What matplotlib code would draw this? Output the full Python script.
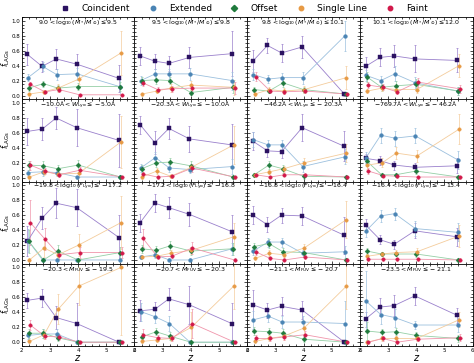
import matplotlib
matplotlib.use("Agg")
import matplotlib.pyplot as plt
from matplotlib.lines import Line2D
from matplotlib.ticker import MultipleLocator

# redshift bin centres
z_bins = [2.2, 2.72, 3.22, 3.95, 5.45]

series = ["Coincident", "Extended", "Offset", "Single Line", "Faint"]

# panel titles, one row per property
mass_titles = [r"$9.0 < \log_{10}(M_*/M_\odot) \leq 9.5$",
               r"$9.5 < \log_{10}(M_*/M_\odot) \leq 9.8$",
               r"$9.8 < \log_{10}(M_*/M_\odot) \leq 10.1$",
               r"$10.1 < \log_{10}(M_*/M_\odot) \leq 12.0$"]
ew_titles = [r"$-10.0{\rm Å} < W_{\rm Ly\alpha} \leq -5.0{\rm Å}$",
             r"$-20.3{\rm Å} < W_{\rm Ly\alpha} \leq -10.0{\rm Å}$",
             r"$-46.2{\rm Å} < W_{\rm Ly\alpha} \leq -20.3{\rm Å}$",
             r"$-769.7{\rm Å} < W_{\rm Ly\alpha} \leq -46.2{\rm Å}$"]
flux_titles = [r"$-19.8 < \log_{10}(F_{\rm Ly\alpha}) \leq -17.2$",
               r"$-17.2 < \log_{10}(F_{\rm Ly\alpha}) \leq -16.8$",
               r"$-16.8 < \log_{10}(F_{\rm Ly\alpha}) \leq -16.4$",
               r"$-16.4 < \log_{10}(F_{\rm Ly\alpha}) \leq -13.4$"]
muv_titles = [r"$-20.3 < M_{\rm FUV} \leq -19.5$",
              r"$-20.7 < M_{\rm FUV} \leq -20.3$",
              r"$-21.1 < M_{\rm FUV} \leq -20.7$",
              r"$-23.5 < M_{\rm FUV} \leq -21.1$"]

# fractions, [panel][z bin] for each class
mass_vals = {
    "Coincident":  [[0.55, 0.39, 0.49, 0.42, 0.23], [0.53, 0.46, 0.43, 0.51, 0.56],
                    [0.46, 0.67, 0.57, 0.65, 0.02], [0.39, 0.51, 0.53, 0.49, 0.47]],
    "Extended":    [[0.24, 0.39, 0.28, 0.29, 0.12], [0.20, 0.29, 0.29, 0.29, 0.20],
                    [0.28, 0.22, 0.24, 0.24, 0.80], [0.27, 0.20, 0.29, 0.17, 0.06]],
    "Offset":      [[0.10, 0.16, 0.10, 0.12, 0.12], [0.20, 0.21, 0.20, 0.04, 0.11],
                    [0.08, 0.06, 0.17, 0.08, 0.02], [0.25, 0.11, 0.13, 0.15, 0.06]],
    "Single Line": [[0.02, 0.05, 0.10, 0.22, 0.57], [0.02, 0.06, 0.10, 0.14, 0.11],
                    [0.02, 0.08, 0.06, 0.08, 0.24], [0.06, 0.10, 0.08, 0.08, 0.40]],
    "Faint":       [[0.15, 0.05, 0.08, 0.01, 0.01], [0.17, 0.08, 0.09, 0.10, 0.10],
                    [0.25, 0.06, 0.05, 0.06, 0.02], [0.14, 0.11, 0.05, 0.18, 0.09]],
}
mass_errs = {
    "Coincident":  [[0.14, 0.07, 0.13, 0.14, 0.18], [0.12, 0.10, 0.10, 0.14, 0.30],
                    [0.15, 0.10, 0.12, 0.15, 0.02], [0.12, 0.12, 0.15, 0.18, 0.16]],
    "Extended":    [[0.05, 0.06, 0.07, 0.08, 0.10], [0.06, 0.07, 0.07, 0.08, 0.12],
                    [0.07, 0.05, 0.06, 0.08, 0.20], [0.07, 0.06, 0.10, 0.08, 0.05]],
    "Offset":      [[0.04, 0.04, 0.04, 0.05, 0.06], [0.05, 0.06, 0.05, 0.03, 0.08],
                    [0.03, 0.03, 0.06, 0.04, 0.02], [0.07, 0.05, 0.06, 0.07, 0.05]],
    "Single Line": [[0.02, 0.03, 0.05, 0.07, 0.30], [0.02, 0.03, 0.05, 0.06, 0.10],
                    [0.02, 0.03, 0.04, 0.05, 0.15], [0.03, 0.04, 0.04, 0.05, 0.15]],
    "Faint":       [[0.03, 0.02, 0.03, 0.01, 0.01], [0.04, 0.03, 0.04, 0.04, 0.08],
                    [0.06, 0.03, 0.03, 0.03, 0.02], [0.04, 0.04, 0.03, 0.06, 0.05]],
}

ew_vals = {
    "Coincident":  [[0.62, 0.65, 0.80, 0.67, 0.50], [0.71, 0.47, 0.66, 0.52, 0.44],
                    [0.49, 0.36, 0.35, 0.67, 0.42], [0.26, 0.23, 0.17, 0.14, 0.16]],
    "Extended":    [[0.07, 0.08, 0.07, 0.01, 0.01], [0.13, 0.27, 0.13, 0.11, 0.15],
                    [0.51, 0.44, 0.44, 0.15, 0.28], [0.27, 0.57, 0.53, 0.56, 0.24]],
    "Offset":      [[0.17, 0.16, 0.12, 0.17, 0.01], [0.12, 0.20, 0.21, 0.16, 0.01],
                    [0.04, 0.17, 0.12, 0.02, 0.01], [0.22, 0.04, 0.04, 0.09, 0.01]],
    "Single Line": [[0.01, 0.08, 0.05, 0.06, 0.48], [0.01, 0.09, 0.02, 0.14, 0.44],
                    [0.04, 0.08, 0.12, 0.20, 0.33], [0.17, 0.20, 0.33, 0.29, 0.65]],
    "Faint":       [[0.17, 0.09, 0.04, 0.10, 0.01], [0.05, 0.01, 0.02, 0.13, 0.01],
                    [0.04, 0.01, 0.04, 0.04, 0.01], [0.09, 0.03, 0.02, 0.01, 0.01]],
}
ew_errs = {
    "Coincident":  [[0.18, 0.15, 0.15, 0.25, 0.35], [0.12, 0.15, 0.14, 0.17, 0.28],
                    [0.12, 0.08, 0.08, 0.18, 0.20], [0.06, 0.06, 0.06, 0.06, 0.10]],
    "Extended":    [[0.04, 0.05, 0.04, 0.02, 0.02], [0.05, 0.07, 0.05, 0.05, 0.10],
                    [0.10, 0.06, 0.06, 0.07, 0.10], [0.08, 0.10, 0.10, 0.10, 0.12]],
    "Offset":      [[0.06, 0.06, 0.05, 0.07, 0.02], [0.05, 0.06, 0.06, 0.06, 0.02],
                    [0.03, 0.05, 0.05, 0.03, 0.02], [0.06, 0.03, 0.03, 0.04, 0.02]],
    "Single Line": [[0.02, 0.04, 0.03, 0.05, 0.35], [0.02, 0.04, 0.02, 0.05, 0.25],
                    [0.02, 0.03, 0.04, 0.06, 0.12], [0.05, 0.06, 0.08, 0.08, 0.20]],
    "Faint":       [[0.06, 0.04, 0.03, 0.05, 0.02], [0.03, 0.02, 0.02, 0.05, 0.02],
                    [0.02, 0.01, 0.02, 0.03, 0.02], [0.04, 0.02, 0.02, 0.02, 0.02]],
}

flux_vals = {
    "Coincident":  [[0.25, 0.56, 0.76, 0.70, 0.30], [0.50, 0.76, 0.70, 0.61, 0.38],
                    [0.60, 0.47, 0.60, 0.59, 0.33], [0.47, 0.27, 0.21, 0.39, 0.31]],
    "Extended":    [[0.26, 0.00, 0.00, 0.00, 0.00], [0.04, 0.07, 0.00, 0.00, 0.15],
                    [0.12, 0.24, 0.24, 0.09, 0.11], [0.39, 0.59, 0.62, 0.42, 0.37]],
    "Offset":      [[0.25, 0.00, 0.12, 0.00, 0.10], [0.15, 0.13, 0.19, 0.12, 0.15],
                    [0.18, 0.22, 0.11, 0.10, 0.00], [0.12, 0.08, 0.08, 0.08, 0.00]],
    "Single Line": [[0.00, 0.16, 0.07, 0.20, 0.50], [0.04, 0.05, 0.09, 0.13, 0.31],
                    [0.02, 0.09, 0.07, 0.16, 0.54], [0.05, 0.08, 0.10, 0.11, 0.32]],
    "Faint":       [[0.50, 0.28, 0.07, 0.10, 0.10], [0.29, 0.04, 0.05, 0.16, 0.00],
                    [0.11, 0.02, 0.00, 0.04, 0.00], [0.01, 0.01, 0.01, 0.01, 0.00]],
}
flux_errs = {
    "Coincident":  [[0.20, 0.15, 0.20, 0.25, 0.30], [0.12, 0.12, 0.14, 0.15, 0.22],
                    [0.12, 0.10, 0.10, 0.12, 0.25], [0.08, 0.06, 0.06, 0.10, 0.12]],
    "Extended":    [[0.15, 0.02, 0.02, 0.02, 0.02], [0.03, 0.04, 0.02, 0.02, 0.08],
                    [0.06, 0.06, 0.06, 0.05, 0.08], [0.08, 0.08, 0.08, 0.10, 0.12]],
    "Offset":      [[0.15, 0.02, 0.08, 0.02, 0.08], [0.05, 0.06, 0.06, 0.06, 0.08],
                    [0.05, 0.06, 0.05, 0.05, 0.02], [0.04, 0.03, 0.03, 0.04, 0.02]],
    "Single Line": [[0.02, 0.12, 0.06, 0.15, 0.35], [0.02, 0.03, 0.04, 0.05, 0.18],
                    [0.02, 0.04, 0.03, 0.05, 0.25], [0.03, 0.03, 0.04, 0.05, 0.15]],
    "Faint":       [[0.30, 0.15, 0.06, 0.08, 0.08], [0.12, 0.03, 0.03, 0.08, 0.02],
                    [0.04, 0.02, 0.02, 0.03, 0.02], [0.02, 0.02, 0.02, 0.02, 0.02]],
}

muv_vals = {
    "Coincident":  [[0.56, 0.59, 0.33, 0.25, 0.00], [0.42, 0.44, 0.58, 0.50, 0.25],
                    [0.50, 0.43, 0.48, 0.43, 0.00], [0.31, 0.47, 0.49, 0.62, 0.36]],
    "Extended":    [[0.09, 0.11, 0.11, 0.00, 0.00], [0.41, 0.34, 0.25, 0.00, 0.00],
                    [0.30, 0.35, 0.27, 0.27, 0.25], [0.55, 0.37, 0.33, 0.23, 0.23]],
    "Offset":      [[0.12, 0.12, 0.06, 0.00, 0.00], [0.07, 0.14, 0.08, 0.00, 0.00],
                    [0.15, 0.14, 0.12, 0.04, 0.00], [0.15, 0.13, 0.14, 0.09, 0.05]],
    "Single Line": [[0.01, 0.10, 0.44, 0.75, 1.00], [0.01, 0.03, 0.05, 0.20, 0.75],
                    [0.01, 0.05, 0.08, 0.19, 0.75], [0.00, 0.05, 0.05, 0.05, 0.30]],
    "Faint":       [[0.23, 0.08, 0.07, 0.00, 0.00], [0.10, 0.06, 0.05, 0.25, 0.00],
                    [0.05, 0.05, 0.07, 0.10, 0.00], [0.00, 0.05, 0.00, 0.04, 0.06]],
}
muv_errs = {
    "Coincident":  [[0.10, 0.12, 0.15, 0.28, 0.02], [0.14, 0.10, 0.15, 0.25, 0.28],
                    [0.20, 0.10, 0.12, 0.12, 0.02], [0.10, 0.12, 0.14, 0.12, 0.10]],
    "Extended":    [[0.05, 0.06, 0.06, 0.02, 0.02], [0.12, 0.08, 0.10, 0.02, 0.02],
                    [0.12, 0.08, 0.08, 0.08, 0.30], [0.40, 0.12, 0.12, 0.06, 0.10]],
    "Offset":      [[0.06, 0.06, 0.05, 0.02, 0.02], [0.05, 0.05, 0.05, 0.02, 0.02],
                    [0.06, 0.05, 0.05, 0.04, 0.02], [0.12, 0.05, 0.05, 0.05, 0.05]],
    "Single Line": [[0.02, 0.06, 0.20, 0.25, 0.90], [0.02, 0.03, 0.04, 0.20, 0.30],
                    [0.02, 0.04, 0.05, 0.10, 0.30], [0.02, 0.03, 0.03, 0.03, 0.10]],
    "Faint":       [[0.07, 0.04, 0.04, 0.02, 0.02], [0.07, 0.04, 0.04, 0.20, 0.02],
                    [0.04, 0.03, 0.04, 0.05, 0.02], [0.02, 0.03, 0.02, 0.03, 0.05]],
}

styles = {
    "Coincident":  dict(marker="s", color="#2b1261", ms=2.8),
    "Extended":    dict(marker="o", color="#4a84b4", ms=2.7),
    "Offset":      dict(marker="D", color="#1f7a3c", ms=2.5),
    "Single Line": dict(marker="o", color="#e79a45", ms=2.5),
    "Faint":       dict(marker="o", color="#d1194a", ms=2.5),
}
line_colors = {
    "Coincident": "#9a80cc", "Extended": "#9cc0de", "Offset": "#95cfa6",
    "Single Line": "#f4cc9c", "Faint": "#f095ab",
}
dodge = {"Coincident": 0.0, "Extended": 0.02, "Offset": 0.05,
         "Single Line": 0.07, "Faint": 0.1}

rows = [(mass_titles, mass_vals, mass_errs),
        (ew_titles, ew_vals, ew_errs),
        (flux_titles, flux_vals, flux_errs),
        (muv_titles, muv_vals, muv_errs)]

fig, axes = plt.subplots(4, 4, figsize=(4.74, 3.63), dpi=100, sharex=True, sharey=True)
fig.subplots_adjust(left=0.046, right=0.997, top=0.953, bottom=0.047, wspace=0, hspace=0)

for r, (titles, vals, errs) in enumerate(rows):
    for c in range(4):
        ax = axes[r, c]
        for name in series:
            xs = [z + dodge[name] for z in z_bins]
            ax.errorbar(xs, vals[name][c], yerr=errs[name][c], fmt="none",
                        ecolor=line_colors[name], elinewidth=0.5, capsize=1.0,
                        capthick=0.5, zorder=1)
            ax.plot(xs, vals[name][c], "-", color=line_colors[name], lw=0.6, zorder=2)
            st = styles[name]
            ax.plot(xs, vals[name][c], linestyle="none", marker=st["marker"],
                    color=st["color"], ms=st["ms"], mec=st["color"], mew=0.3, zorder=3)
        ax.text(0.5, 0.93, titles[c], transform=ax.transAxes, ha="center", va="center",
                fontsize=4.5)
        ax.set_xlim(2, 6)
        ax.set_ylim(-0.05, 1.05)
        ax.xaxis.set_major_locator(MultipleLocator(1))
        ax.xaxis.set_minor_locator(MultipleLocator(0.25))
        ax.yaxis.set_major_locator(MultipleLocator(0.2))
        ax.yaxis.set_minor_locator(MultipleLocator(0.05))
        ax.tick_params(which="both", direction="in", top=True, right=True,
                       labelsize=4.0, pad=1.2, width=0.5)
        ax.tick_params(which="major", length=2.5)
        ax.tick_params(which="minor", length=1.2)
        ax.yaxis.set_major_formatter(plt.FuncFormatter(lambda v, p: f"{v:.1f}"))
        for sp in ax.spines.values():
            sp.set_linewidth(0.6)
        if c == 0:
            ax.set_ylabel(r"$f_{\rm LAGs}$", fontsize=5.5)
            ax.yaxis.set_label_coords(-0.09, 0.5)
            ax.tick_params(labelleft=True)
        if r == 3:
            ax.set_xlabel(r"$z$", fontsize=7, labelpad=0)
            ax.tick_params(labelbottom=True)

handles = [Line2D([], [], linestyle="none", marker=styles[n]["marker"],
                  color=styles[n]["color"], ms=3.2) for n in series]
fig.legend(handles, series, loc="upper center", bbox_to_anchor=(0.515, 1.01), ncol=5,
           frameon=False, fontsize=6.5, columnspacing=2.0, handletextpad=1.3,
           handlelength=1.0)

fig.savefig("out.png", dpi=100)
